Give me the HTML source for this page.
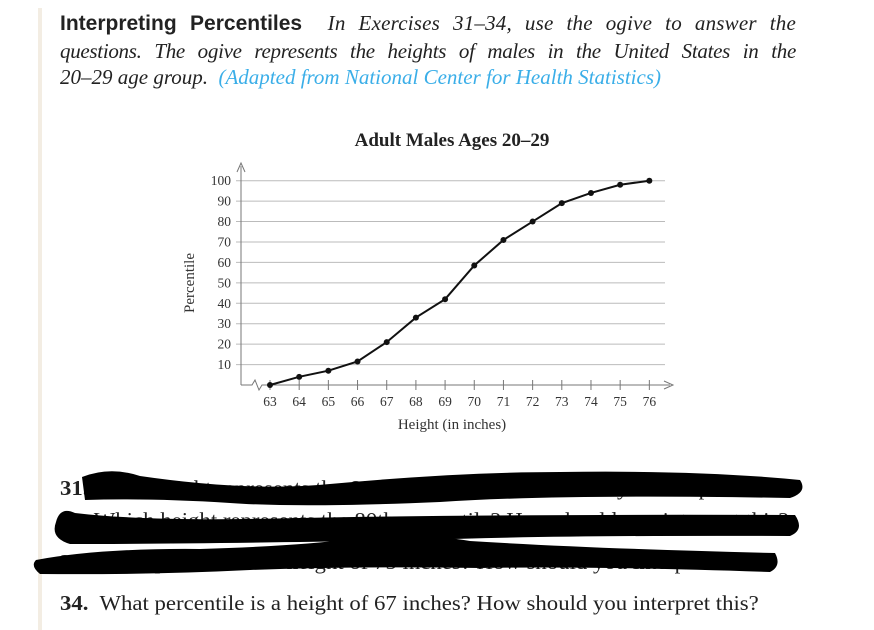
<!DOCTYPE html>
<html><head><meta charset="utf-8"><style>
body{margin:0;width:874px;height:630px;background:#fff;position:relative;overflow:hidden;font-family:"Liberation Serif",serif;}
.bar{position:absolute;left:38px;top:8px;width:4px;height:622px;background:#f3ede3;}
.intro{position:absolute;left:60px;top:10px;width:736px;font-size:21px;line-height:26.5px;color:#222;font-style:italic;}
.intro div{text-align:justify;text-align-last:justify;white-space:nowrap;}
.intro div.last{text-align-last:left;}
.intro b{font-family:"Liberation Sans",sans-serif;font-style:normal;font-size:21px;}
.src{color:#3aaee8;}
.q{position:absolute;left:60px;font-size:21px;color:#222;white-space:nowrap;transform-origin:0 0;transform:scaleX(1.085);}
</style></head><body>
<div class="bar"></div>
<div class="intro">
<div style="white-space:normal"><b>Interpreting Percentiles</b>&nbsp; <span style="letter-spacing:0.2px">In Exercises 31–34, use the ogive to answer the</span></div>
<div style="white-space:normal;letter-spacing:-0.3px">questions. The ogive represents the heights of males in the United States in the</div>
<div class="last">20–29 age group.&nbsp; <span class="src">(Adapted from National Center for Health Statistics)</span></div>
</div>
<svg width="874" height="630" style="position:absolute;left:0;top:0" id="chart"></svg>
<div class="q" style="top:476px"><b>31.</b>&nbsp; What height represents the 60th percentile? How should you interpret this?</div>
<div class="q" style="top:508px">&nbsp;&nbsp;&nbsp;&nbsp;&nbsp; Which height represents the 80th percentile? How should you interpret this?</div>
<div class="q" style="top:550px"><b>33.</b>&nbsp; What percentile is a height of 75 inches? How should you interpret this?</div>
<div class="q" style="top:591px"><b>34.</b>&nbsp; What percentile is a height of 67 inches? How should you interpret this?</div>
<svg width="874" height="630" style="position:absolute;left:0;top:0">
<path d="M82 477 Q110 466 140 476 Q250 492 330 484 Q460 472 560 472 Q700 470 800 480 Q808 492 790 498 Q560 494 440 502 Q300 508 230 503 Q150 498 85 500 Z" fill="#000"/>
<path d="M56 522 Q60 506 75 513 Q150 522 300 518 Q500 514 795 515 Q805 530 790 536 Q560 535 420 540 Q200 544 70 544 Q50 538 56 522 Z" fill="#000"/>
<path d="M36 560 Q100 548 200 549 Q300 546 350 539 Q420 532 470 541 Q600 549 775 553 Q782 566 770 572 Q600 566 480 568 Q350 566 250 570 Q150 575 40 574 Q30 566 36 560 Z" fill="#000"/>
</svg>
<script>
const heights=[63,64,65,66,67,68,69,70,71,72,73,74,75,76];
const percentiles=[0,4,7,11.5,21,33,42,58.5,71,80,89,94,98,100];
const yTicks=[10,20,30,40,50,60,70,80,90,100];
const svg=document.getElementById('chart');
const NS='http://www.w3.org/2000/svg';
const X=v=>270+(v-63)*29.18;
const Y=v=>385-v*2.043;
function mk(t,a,p){const e=document.createElementNS(NS,t);for(const k in a)e.setAttribute(k,a[k]);(p||svg).appendChild(e);return e;}
let e;
e=mk('text',{x:452,y:146,'text-anchor':'middle','font-size':19,'font-weight':'bold',fill:'#222'});e.textContent='Adult Males Ages 20–29';


yTicks.forEach(t=>{
 const g=mk('line',{x1:236,x2:665,y1:Y(t),y2:Y(t),stroke:'#bbb','stroke-width':1});
 
 
 const l=mk('text',{x:231,y:Y(t)+4.5,'text-anchor':'end','font-size':13.5,fill:'#333'});l.textContent=t;
 
 
});
e=mk('path',{d:'M241 385 V166 M237 172 L241 163 L245 172',stroke:'#777',fill:'none','stroke-width':1});


e=mk('path',{d:'M241 385 H252 L255 380 L259 390 L262 385 H670 M664 381 L673 385 L664 389',stroke:'#777',fill:'none','stroke-width':1});


heights.forEach(h=>{
 const t=mk('line',{x1:X(h),x2:X(h),y1:380,y2:390,stroke:'#777'});
 
 
 const l=mk('text',{x:X(h),y:406,'text-anchor':'middle','font-size':13.5,fill:'#333'});l.textContent=h;
 
 
});
e=mk('text',{x:452,y:429,'text-anchor':'middle','font-size':15,fill:'#333'});e.textContent='Height (in inches)';


e=mk('text',{x:0,y:0,'text-anchor':'middle','font-size':15,fill:'#333',transform:'translate(194,283) rotate(-90)'});e.textContent='Percentile';


e=mk('polyline',{points:heights.map((h,i)=>X(h)+','+Y(percentiles[i])).join(' '),fill:'none',stroke:'#111','stroke-width':2});


heights.forEach((h,i)=>{
 const c=mk('circle',{cx:X(h),cy:Y(percentiles[i]),r:3,fill:'#111'});
 
 
});
</script>
</body></html>
